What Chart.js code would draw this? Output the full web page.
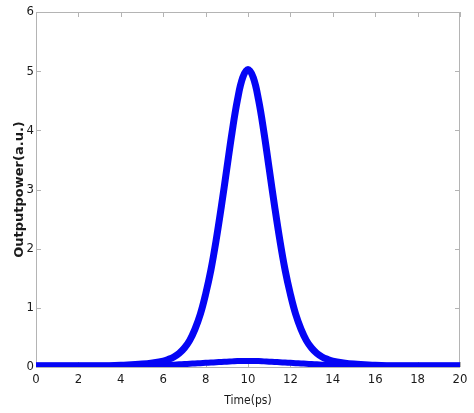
<!DOCTYPE html>
<html>
<head>
<meta charset="utf-8">
<script src="https://cdn.jsdelivr.net/npm/chart.js@4/dist/chart.umd.min.js"></script>
<style>
html,body{margin:0;padding:0;background:#fff;}
#wrap{width:474px;height:413px;position:relative;}
</style>
</head>
<body>
<div id="wrap"><canvas id="c"></canvas></div>
<script>
const times = [0,1,2,3,4,4.5,5,5.5,6,6.25,6.5,6.75,7,7.25,7.5,7.75,8,8.25,8.5,8.75,9,9.25,9.5,9.75,10,10.25,10.5,10.75,11,11.25,11.5,11.75,12,12.25,12.5,12.75,13,13.25,13.5,13.75,14,14.5,15,15.5,16,17,18,19,20];
const mainPulse = [0.02,0.02,0.02,0.02,0.03,0.04,0.05,0.07,0.10,0.13,0.17,0.23,0.32,0.45,0.64,0.89,1.23,1.64,2.15,2.73,3.35,3.97,4.51,4.89,5.03,4.89,4.51,3.97,3.35,2.73,2.15,1.64,1.23,0.89,0.64,0.45,0.32,0.23,0.17,0.13,0.10,0.07,0.05,0.04,0.03,0.02,0.02,0.02,0.02];
const weakPulse = [0.02,0.02,0.02,0.02,0.02,0.02,0.02,0.025,0.03,0.035,0.04,0.045,0.05,0.055,0.06,0.065,0.07,0.075,0.08,0.085,0.09,0.095,0.1,0.1,0.1,0.1,0.1,0.095,0.09,0.085,0.08,0.075,0.07,0.065,0.06,0.055,0.05,0.045,0.04,0.035,0.03,0.025,0.02,0.02,0.02,0.02,0.02,0.02,0.02];
const xTicks = [0,2,4,6,8,10,12,14,16,18,20];
const yTicks = [0,1,2,3,4,5,6];
const xTitle = 'Time(ps)';
const yTitle = 'Outputpower(a.u.)';

const NARROW = "'Liberation Sans Narrow','DejaVu Sans Condensed',sans-serif";
const blue = 'rgb(5,5,245)';

function pts(vals){ return times.map((t,i)=>({x:t,y:vals[i]})); }

const framePlugin = {
  id:'frame',
  beforeDatasetsDraw(chart){
    const {ctx, chartArea:a, scales:{x,y}} = chart;
    ctx.save();
    ctx.strokeStyle = '#b4b4b4';
    ctx.lineWidth = 1;
    ctx.strokeRect(a.left+0.5, a.top+0.5, a.right-a.left-1, a.bottom-a.top);
    const L = 5;
    ctx.beginPath();
    xTicks.forEach(v=>{
      const px = Math.round(x.getPixelForValue(v))+0.5;
      ctx.moveTo(px,a.bottom); ctx.lineTo(px,a.bottom-L);
      ctx.moveTo(px,a.top); ctx.lineTo(px,a.top+L);
    });
    yTicks.forEach(v=>{
      const py = Math.round(y.getPixelForValue(v))+0.5;
      ctx.moveTo(a.left,py); ctx.lineTo(a.left+L,py);
      ctx.moveTo(a.right,py); ctx.lineTo(a.right-L,py);
    });
    ctx.stroke();
    ctx.restore();
  }
};

new Chart(document.getElementById('c'), {
  type:'line',
  data:{
    datasets:[
      {data:pts(mainPulse), borderColor:blue, borderWidth:7, pointRadius:0, tension:0.4, fill:false},
      {data:pts(weakPulse), borderColor:blue, borderWidth:6, pointRadius:0, tension:0.4, fill:false}
    ]
  },
  options:{
    responsive:true, maintainAspectRatio:false, animation:false,
    layout:{padding:{top:12,right:14,left:0,bottom:0}},
    plugins:{legend:{display:false}, tooltip:{enabled:false}},
    scales:{
      x:{
        type:'linear', min:0, max:20,
        afterBuildTicks(s){ s.ticks = xTicks.map(v=>({value:v})); },
        afterFit(s){ s.height = 46; },
        ticks:{font:{family:NARROW,size:13}, color:'#1a1a1a', padding:5, maxRotation:0, autoSkip:false},
        grid:{display:true, drawOnChartArea:false, drawTicks:false},
        border:{display:false},
        title:{display:true, text:xTitle, font:{family:NARROW,size:12}, color:'#1a1a1a', padding:{top:0,bottom:5}}
      },
      y:{
        type:'linear', min:0, max:6,
        afterBuildTicks(s){ s.ticks = yTicks.map(v=>({value:v})); },
        afterFit(s){ s.width = 36; },
        ticks:{font:{family:NARROW,size:13}, color:'#1a1a1a', padding:2, autoSkip:false},
        grid:{display:true, drawOnChartArea:false, drawTicks:false},
        border:{display:false},
        title:{display:true, text:yTitle, font:{family:"'DejaVu Sans',sans-serif",size:13,weight:'bold'}, color:'#1a1a1a', padding:{top:12,bottom:0}}
      }
    }
  },
  plugins:[framePlugin]
});
</script>
</body>
</html>
